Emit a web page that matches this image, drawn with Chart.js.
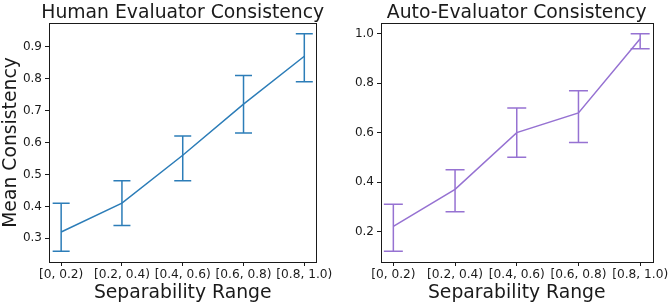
<!DOCTYPE html>
<html>
<head>
<meta charset="utf-8">
<script src="https://cdn.jsdelivr.net/npm/chart.js@4.4.1/dist/chart.umd.min.js"></script>
<style>
  html, body { margin: 0; padding: 0; background: #ffffff; }
  .panel { position: absolute; top: 0; height: 304px; }
</style>
</head>
<body>
<div class="panel" style="left:0;width:335px"><canvas id="chart-human" width="335" height="304"></canvas></div>
<div class="panel" style="left:335px;width:336px"><canvas id="chart-auto" width="336" height="304"></canvas></div>
<script>
// separability bins on the x axis
const RANGES = ["[0, 0.2)", "[0.2, 0.4)", "[0.4, 0.6)", "[0.6, 0.8)", "[0.8, 1.0)"];

// human evaluator: mean consistency and error bar ends
const HUMAN_MEAN = [0.32, 0.41, 0.56, 0.72, 0.87];
const HUMAN_LOW = [0.26, 0.34, 0.48, 0.63, 0.79];
const HUMAN_HIGH = [0.41, 0.48, 0.62, 0.81, 0.94];
const HUMAN_TICKS = [0.3, 0.4, 0.5, 0.6, 0.7, 0.8, 0.9];

// auto evaluator
const AUTO_MEAN = [0.22, 0.37, 0.60, 0.68, 0.98];
const AUTO_LOW = [0.12, 0.28, 0.50, 0.56, 0.94];
const AUTO_HIGH = [0.31, 0.45, 0.70, 0.77, 1.00];
const AUTO_TICKS = [0.2, 0.4, 0.6, 0.8, 1.0];

const INK = "#1a1a1a";
const FONT = "'DejaVu Sans', sans-serif";

Chart.defaults.font.family = FONT;
Chart.defaults.color = INK;

// vertical error bars with caps, drawn through the chart's own scales
const errorBars = {
  id: "errorBars",
  afterDatasetsDraw(chart, args, opts) {
    const { ctx, scales: { x, y } } = chart;
    ctx.save();
    ctx.strokeStyle = opts.color;
    ctx.lineWidth = 1.5;
    opts.low.forEach((lo, i) => {
      const px = x.getPixelForValue(i);
      const top = y.getPixelForValue(opts.high[i]);
      const bot = y.getPixelForValue(lo);
      ctx.beginPath();
      ctx.moveTo(px, top); ctx.lineTo(px, bot);
      ctx.moveTo(px - opts.cap, top); ctx.lineTo(px + opts.cap, top);
      ctx.moveTo(px - opts.cap, bot); ctx.lineTo(px + opts.cap, bot);
      ctx.stroke();
    });
    ctx.restore();
  },
};

// closed box round the plot area (matplotlib spines) and a title centred on it
const frame = {
  id: "frame",
  afterDraw(chart, args, opts) {
    const { ctx, chartArea: a } = chart;
    ctx.save();
    ctx.strokeStyle = INK;
    ctx.lineWidth = 1;
    ctx.strokeRect(Math.round(a.left) + 0.5, Math.round(a.top) + 0.5,
      Math.round(a.right - a.left), Math.round(a.bottom - a.top));
    ctx.fillStyle = INK;
    ctx.font = "18.8px " + FONT;
    ctx.textAlign = "center";
    ctx.textBaseline = "alphabetic";
    ctx.fillText(opts.title, (a.left + a.right) / 2, 17.5);
    ctx.restore();
  },
};

function padded(lo, hi) {
  const min = Math.min(...lo), max = Math.max(...hi);
  const m = (max - min) * 0.05;
  return [min - m, max + m];
}

function createPanel(canvas, opts) {
  const [ymin, ymax] = padded(opts.low, opts.high);
  return new Chart(canvas, {
    type: "line",
    data: {
      datasets: [{
        data: opts.mean.map((v, i) => ({ x: i, y: v })),
        borderColor: opts.color,
        borderWidth: 1.5,
        pointRadius: 0,
        tension: 0,
        fill: false,
      }],
    },
    options: {
      responsive: false,
      animation: false,
      layout: { padding: { left: 0, right: opts.padRight, top: 23, bottom: 0 } },
      plugins: {
        legend: { display: false },
        tooltip: { enabled: false },
        title: { display: false },
        frame: { title: opts.title },
        errorBars: { low: opts.low, high: opts.high, color: opts.color, cap: opts.cap },
      },
      scales: {
        x: {
          type: "linear",
          min: -0.2,
          max: 4.2,
          afterBuildTicks: (s) => { s.ticks = RANGES.map((_, i) => ({ value: i })); },
          afterFit: (s) => { s.height = 42; },
          ticks: { callback: (v) => RANGES[v], font: { size: 12.2 }, padding: 2, maxRotation: 0, autoSkip: false, color: INK },
          grid: { display: true, drawOnChartArea: false, drawTicks: true, tickLength: 4, color: INK },
          border: { display: true, color: INK, width: 1 },
          title: { display: true, text: "Separability Range", font: { size: 18.8 }, padding: { top: 0, bottom: 0 }, color: INK },
        },
        y: {
          type: "linear",
          min: ymin,
          max: ymax,
          afterBuildTicks: (s) => { s.ticks = opts.ticks.map((v) => ({ value: v })); },
          afterFit: (s) => { s.width = opts.axisWidth; },
          ticks: { callback: (v) => v.toFixed(1), font: { size: 12 }, padding: 3, color: INK },
          grid: { display: true, drawOnChartArea: false, drawTicks: true, tickLength: 4, color: INK },
          border: { display: true, color: INK, width: 1 },
          title: { display: !!opts.yTitle, text: opts.yTitle || "", font: { size: 18.8 }, padding: 0, color: INK },
        },
      },
    },
    plugins: [errorBars, frame],
  });
}

createPanel(document.getElementById("chart-human"), {
  title: "Human Evaluator Consistency",
  yTitle: "Mean Consistency",
  mean: HUMAN_MEAN, low: HUMAN_LOW, high: HUMAN_HIGH, ticks: HUMAN_TICKS,
  color: "#2c7db8", cap: 8.5, axisWidth: 49, padRight: 15,
});

createPanel(document.getElementById("chart-auto"), {
  title: "Auto-Evaluator Consistency",
  mean: AUTO_MEAN, low: AUTO_LOW, high: AUTO_HIGH, ticks: AUTO_TICKS,
  color: "#9672d2", cap: 9.5, axisWidth: 46, padRight: 18,
});
</script>
</body>
</html>
